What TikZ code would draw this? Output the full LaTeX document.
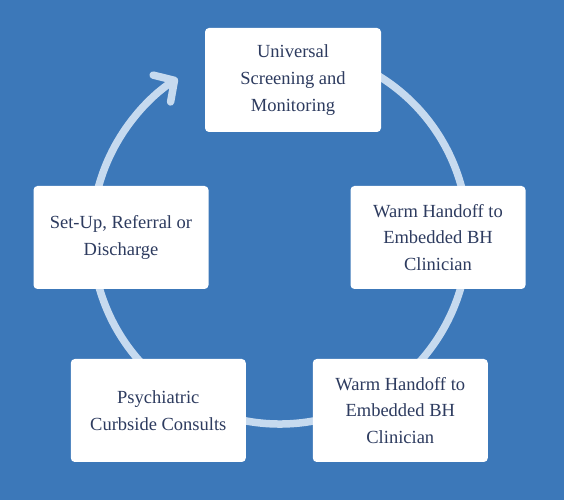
\documentclass[tikz,border=0pt]{standalone}
\usepackage{fontspec}
\setmainfont{Liberation Serif}
\usepackage{tikz}
\usepackage{xcolor}
\usetikzlibrary{arrows.meta, positioning}
\definecolor{bgblue}{HTML}{3C78B9}
\definecolor{ringblue}{HTML}{C6DAEF}
\definecolor{inkblue}{HTML}{2D3B5F}

\begin{document}
\begin{tikzpicture}[x=1pt, y=1pt,
    stage/.style={fill=white, rounded corners=4pt, minimum width=175pt, minimum height=103pt,
        align=center, text=inkblue, font=\fontsize{18.5}{26.7}\selectfont, inner sep=0pt},
    ring/.style={draw=ringblue, line width=7.5pt}]
                                \fill[bgblue] (0, 0) rectangle (564, 500);
                                \useasboundingbox (0, 0) rectangle (564, 500);

                                \coordinate (hub) at (280, 264);
                                \draw[ring, -{Straight Barb[round, length=15pt, width=32pt]}]
                                    (hub) ++(60:188) arc[start angle=60, end angle=-237, radius=188];

                                \node[stage, minimum width=176pt, minimum height=104pt] (screen) at (293, 420) {Universal\\Screening and\\Monitoring};
                                \node[stage] (handoffA) at (438, 262.5) {Warm Handoff to\\Embedded BH\\Clinician};
                                \node[stage] (handoffB) at (400.3, 89.5) {Warm Handoff to\\Embedded BH\\Clinician};
                                \node[stage] (curbside) at (158.3, 89.5) {Psychiatric\\Curbside Consults};
                                \node[stage] (referral) at (121, 262.5) {Set-Up, Referral or\\Discharge};
                            \end{tikzpicture}
\end{document}
